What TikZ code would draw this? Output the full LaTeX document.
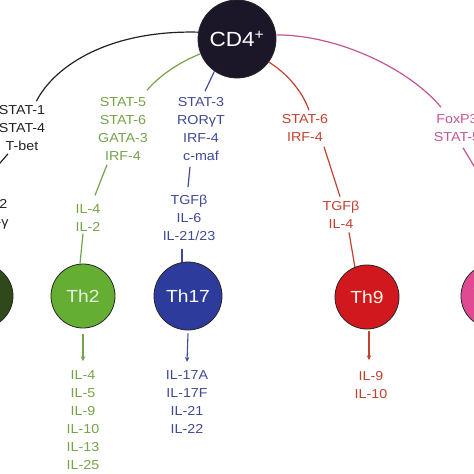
\documentclass[tikz,border=0pt]{standalone}
\usepackage{fontspec}
\setmainfont{Liberation Sans}[FakeStretch=1.1]
\usetikzlibrary{arrows.meta}

\definecolor{cdnavy}{HTML}{1C1629}
\definecolor{oneFill}{HTML}{30491B}
\definecolor{oneText}{HTML}{222222}
\definecolor{twoFill}{HTML}{64AF33}
\definecolor{twoText}{HTML}{74A34A}
\definecolor{sevFill}{HTML}{2D3C9C}
\definecolor{sevText}{HTML}{3F4A97}
\definecolor{nineFill}{HTML}{D2181F}
\definecolor{nineText}{HTML}{C4412F}
\definecolor{regFill}{HTML}{E04A93}
\definecolor{regText}{HTML}{C45592}

\begin{document}
\begin{tikzpicture}[
  x=1pt, y=-1pt,
  cell/.style={circle, draw=black!85, line width=0.8pt, minimum size=64pt, inner sep=0pt, text=white, font=\fontsize{17.5}{20}\selectfont},
  lbl/.style={align=center, inner sep=0pt, font=\fontsize{13}{18}\selectfont},
  link/.style={line width=1.2pt},
  arr/.style={-{Stealth[length=5pt, width=4.5pt]}, line width=1.1pt}
]
  \useasboundingbox (0,0) rectangle (474,474);
  \clip (0,0) rectangle (474,474);

  % root cell
  \node[cell, fill=cdnavy, minimum size=78pt, font=\fontsize{20.5}{22}\selectfont] (cd4) at (237,39) {CD4\textsuperscript{+}};

  % subsets
  \node[cell, fill=oneFill] (th1) at (-19,296) {Th1};
  \node[cell, fill=twoFill, text=white!85!twoFill] (th2) at (83,296) {Th2};
  \node[cell, fill=sevFill, minimum size=68pt] (th17) at (188,296) {Th17};
  \node[cell, fill=nineFill, text=white!90!yellow] (th9) at (367,297) {Th9};
  \node[cell, fill=regFill] (treg) at (493,296) {Treg};

  % transcription factors
  \node[lbl, text=oneText] (th1tf) at (22,128) {STAT-1\\STAT-4\\T-bet};
  \node[lbl, text=twoText] (th2tf) at (123,129) {STAT-5\\STAT-6\\GATA-3\\IRF-4};
  \node[lbl, text=sevText] (th17tf) at (201,129) {STAT-3\\RORγT\\IRF-4\\c-maf};
  \node[lbl, text=nineText] (th9tf) at (305,128) {STAT-6\\IRF-4};
  \node[lbl, text=regText] (tregtf) at (457,128) {FoxP3\\STAT-5};

  % polarising cytokines
  \node[lbl, text=oneText] (th1cy) at (-9,214) {IL-12\\IFN-γ};
  \node[lbl, text=twoText] (th2cy) at (88,218) {IL-4\\IL-2};
  \node[lbl, text=sevText] (th17cy) at (189,218) {TGFβ\\IL-6\\IL-21/23};
  \node[lbl, text=nineText] (th9cy) at (341,214.5) {TGFβ\\IL-4};

  % secreted cytokines
  \node[lbl, text=twoText] (th2out) at (83,420) {IL-4\\IL-5\\IL-9\\IL-10\\IL-13\\IL-25};
  \node[lbl, text=sevText] (th17out) at (187,402.5) {IL-17A\\IL-17F\\IL-21\\IL-22};
  \node[lbl, text=nineText] (th9out) at (371,385) {IL-9\\IL-10};

  \coordinate (tregend) at (480,176);

  % Th1
  \draw[link, oneText] (cd4.170) .. controls (110,30) and (55,65) .. ([xshift=-9pt,yshift=4pt]th1tf.north east);
  \draw[link, oneText] ([xshift=-14pt,yshift=-3pt]th1tf.south) -- ([xshift=-16pt,yshift=7pt]th1cy.north);

  % Th2
  \draw[link, twoText] (cd4.202) .. controls (180,62) and (160,75) .. ([xshift=-1pt,yshift=7pt]th2tf.north east);
  \draw[link, twoText] ([xshift=-16pt,yshift=-4pt]th2tf.south) -- ([xshift=7pt,yshift=9pt]th2cy.north);
  \draw[link, twoText] ([xshift=-5pt,yshift=-2pt]th2cy.south) -- ([xshift=-3pt]th2.north);
  \draw[arr, twoText] ([yshift=-6pt]th2.south) -- ([yshift=9pt]th2out.north);

  % Th17
  \draw[link, sevText] (cd4.235) -- ([xshift=4pt,yshift=6pt]th17tf.north);
  \draw[link, sevText] ([xshift=-11pt,yshift=-6pt]th17tf.south) -- ([xshift=-1pt,yshift=8pt]th17cy.north);
  \draw[link, sevText] ([xshift=-7pt,yshift=-8pt]th17cy.south) -- ([xshift=-6pt]th17.north);
  \draw[arr, sevText] ([yshift=-3pt]th17.south) -- ([yshift=9pt]th17out.north);

  % Th9
  \draw[link, nineText] (cd4.324) .. controls (285,72) and (302,90) .. ([xshift=4pt,yshift=4pt]th9tf.north);
  \draw[link, nineText] ([xshift=19pt,yshift=-5pt]th9tf.south) -- ([xshift=-1pt,yshift=4pt]th9cy.north);
  \draw[link, nineText] ([xshift=8pt,yshift=-4pt]th9cy.south) -- (th9.112);
  \draw[arr, nineText] ([xshift=2pt,yshift=-2pt]th9.south) -- ([xshift=-2pt,yshift=11pt]th9out.north);

  % Treg
  \draw[link, regText] (cd4.6) .. controls (340,35) and (410,70) .. ([xshift=-16pt,yshift=7pt]tregtf.north);
  \draw[link, regText] ([xshift=6pt,yshift=-6pt]tregtf.south) -- (tregend);
\end{tikzpicture}
\end{document}
